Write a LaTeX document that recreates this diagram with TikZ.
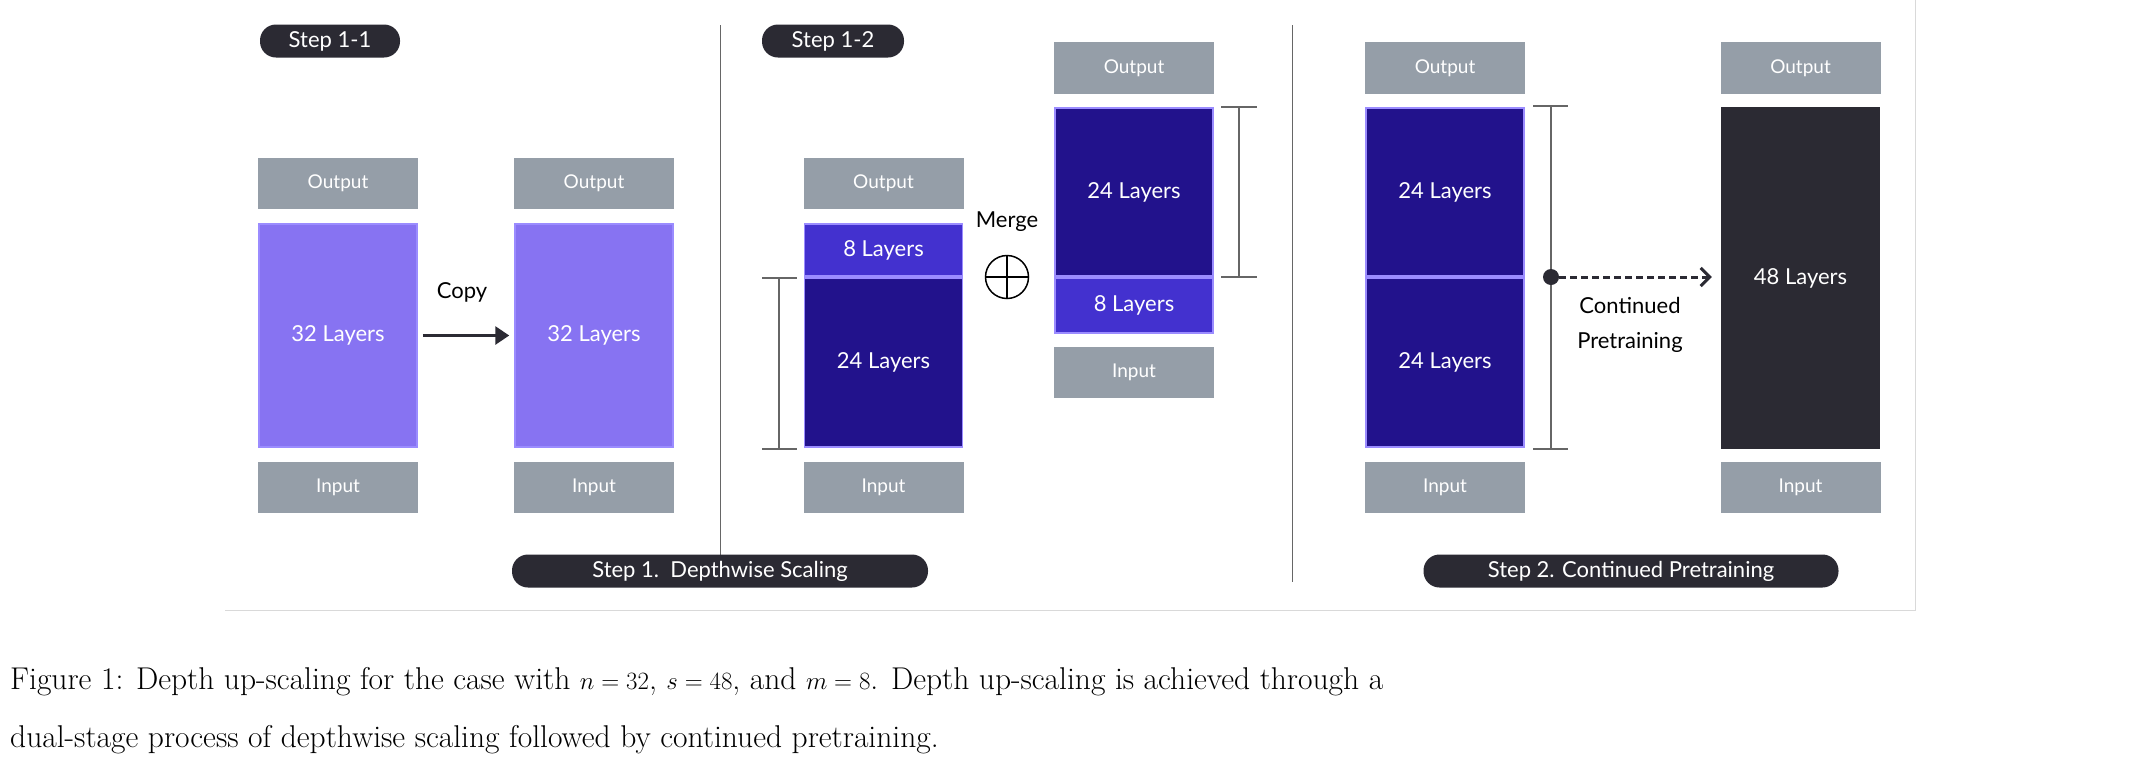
\documentclass[tikz,border=0pt]{standalone}
\usepackage{fontspec}
\setmainfont{Latin Modern Roman}
\newfontfamily\lato{Lato}
\usetikzlibrary{arrows.meta,calc}
\definecolor{gr}{HTML}{959EA8}
\definecolor{lp}{HTML}{8773F2}
\definecolor{mp}{HTML}{4331CF}
\definecolor{dp}{HTML}{22128C}
\definecolor{bk}{HTML}{2B2A33}
\definecolor{bd}{HTML}{9B8CFF}
\begin{document}
\begin{tikzpicture}[x=1pt,y=-1pt,
  box/.style={draw=none,minimum width=160pt,inner sep=0pt,text=white,font=\lato\fontsize{19}{22}\selectfont},
  io/.style={box,fill=gr,minimum height=51pt},
  lay/.style={box,draw=bd,line width=1.5pt,minimum width=158pt,font=\lato\fontsize{22}{26}\selectfont},
  pill/.style={fill=bk,rounded corners=16pt,text=white,inner sep=0pt,minimum height=33pt,font=\lato\fontsize{22}{26}\selectfont},
  brk/.style={draw=gray!80!black,line width=1.2pt},
  lbl/.style={font=\lato\fontsize{22}{26}\selectfont,text=black}]
\useasboundingbox (0,0) rectangle (2142,772);
\fill[white] (0,0) rectangle (2142,772);
% frame
\draw[gray!30,line width=1pt] (225,610) -- (1915,610) -- (1915,0);
\draw[gray!80!black,line width=1pt] (720,25) -- (720,572);
\draw[gray!80!black,line width=1pt] (1292,25) -- (1292,582);
% pills
\node[pill,minimum width=140pt] (s11) at (330,41) {Step 1-1};
\node[pill,minimum width=142pt] (s12) at (833,41) {Step 1-2};
\node[pill,minimum width=416pt] (s1) at (720,571) {Step 1.\ \ Depthwise Scaling};
\node[pill,minimum width=415pt] (s2) at (1631,571) {Step 2. Continued Pretraining};
% col1
\node[io] (o1) at (338,183.5) {Output};
\node[lay,fill=lp,minimum height=223pt] (l1) at (338,335.5) {32 Layers};
\node[io] (i1) at (338,487.5) {Input};
% col2
\node[io] (o2) at (594,183.5) {Output};
\node[lay,fill=lp,minimum height=223pt] (l2) at (594,335.5) {32 Layers};
\node[io] (i2) at (594,487.5) {Input};
\draw[bk,line width=3pt,shorten <=5pt,shorten >=5pt,-{Triangle[length=14pt,width=18pt]}] (l1) -- (l2);
\node[lbl] (copy) at (462,292) {Copy};
% col3
\node[io] (o3) at (883.5,183.5) {Output};
\node[lay,fill=mp,minimum height=52pt] (a3) at (883.5,250) {8 Layers};
\node[lay,fill=dp,minimum height=169pt] (b3) at (883.5,362.5) {24 Layers};
\node[io] (i3) at (883.5,487.5) {Input};
\draw[brk] (779,278) -- (779,449);
\draw[brk] (762,278) -- (797,278); \draw[brk] (762,449) -- (797,449);
% merge
\node[lbl] (merge) at (1007,222) {Merge};
\node[circle,draw=black,line width=1.5pt,minimum size=43pt,inner sep=0pt] (plus) at (1007,277) {};
\draw[line width=1.5pt] (plus.north) -- (plus.south) (plus.west) -- (plus.east);
% col4
\node[io,minimum height=52pt] (o4) at (1134,68) {Output};
\node[lay,fill=dp,minimum height=168pt] (a4) at (1134,192) {24 Layers};
\node[lay,fill=mp,minimum height=55pt] (b4) at (1134,305.5) {8 Layers};
\node[io] (i4) at (1134,372.5) {Input};
\draw[brk] (1239,107) -- (1239,277);
\draw[brk] (1221,107) -- (1257,107); \draw[brk] (1221,277) -- (1257,277);
% col5
\node[io,minimum height=52pt] (o5) at (1445,68) {Output};
\node[lay,fill=dp,minimum height=168pt] (a5) at (1445,192) {24 Layers};
\node[lay,fill=dp,minimum height=169pt] (b5) at (1445,362.5) {24 Layers};
\node[io] (i5) at (1445,487.5) {Input};
\draw[brk] (1551,106) -- (1551,449);
\draw[brk] (1533,106) -- (1568,106); \draw[brk] (1533,449) -- (1568,449);
% col6
\node[io,minimum height=52pt] (o6) at (1800.5,68) {Output};
\node[box,fill=bk,minimum width=159pt,minimum height=342pt,font=\lato\fontsize{22}{26}\selectfont] (l6) at (1800.5,278) {48 Layers};
\node[io] (i6) at (1800.5,487.5) {Input};
\node[circle,fill=bk,minimum size=16pt,inner sep=0pt] (dot) at (1551,277) {};
\draw[bk,line width=3pt,dash pattern=on 7pt off 4pt,shorten >=9pt,-{Straight Barb[length=9pt,width=18pt]}] (dot) -- (dot -| l6.west);
\node[lbl] (cp1) at (1630,305) {Continued};
\node[lbl] (cp2) at (1630,342) {Pretraining};
% caption
\node[anchor=west,inner sep=0pt,font=\fontsize{31.5}{40}\selectfont] (cap1) at (10,682) {Figure 1: Depth up-scaling for the case with $n=32$, $s=48$, and $m=8$. Depth up-scaling is achieved through a};
\node[anchor=west,inner sep=0pt,font=\fontsize{31.5}{40}\selectfont] (cap2) at (10,740) {dual-stage process of depthwise scaling followed by continued pretraining.};
\end{tikzpicture}
\end{document}
